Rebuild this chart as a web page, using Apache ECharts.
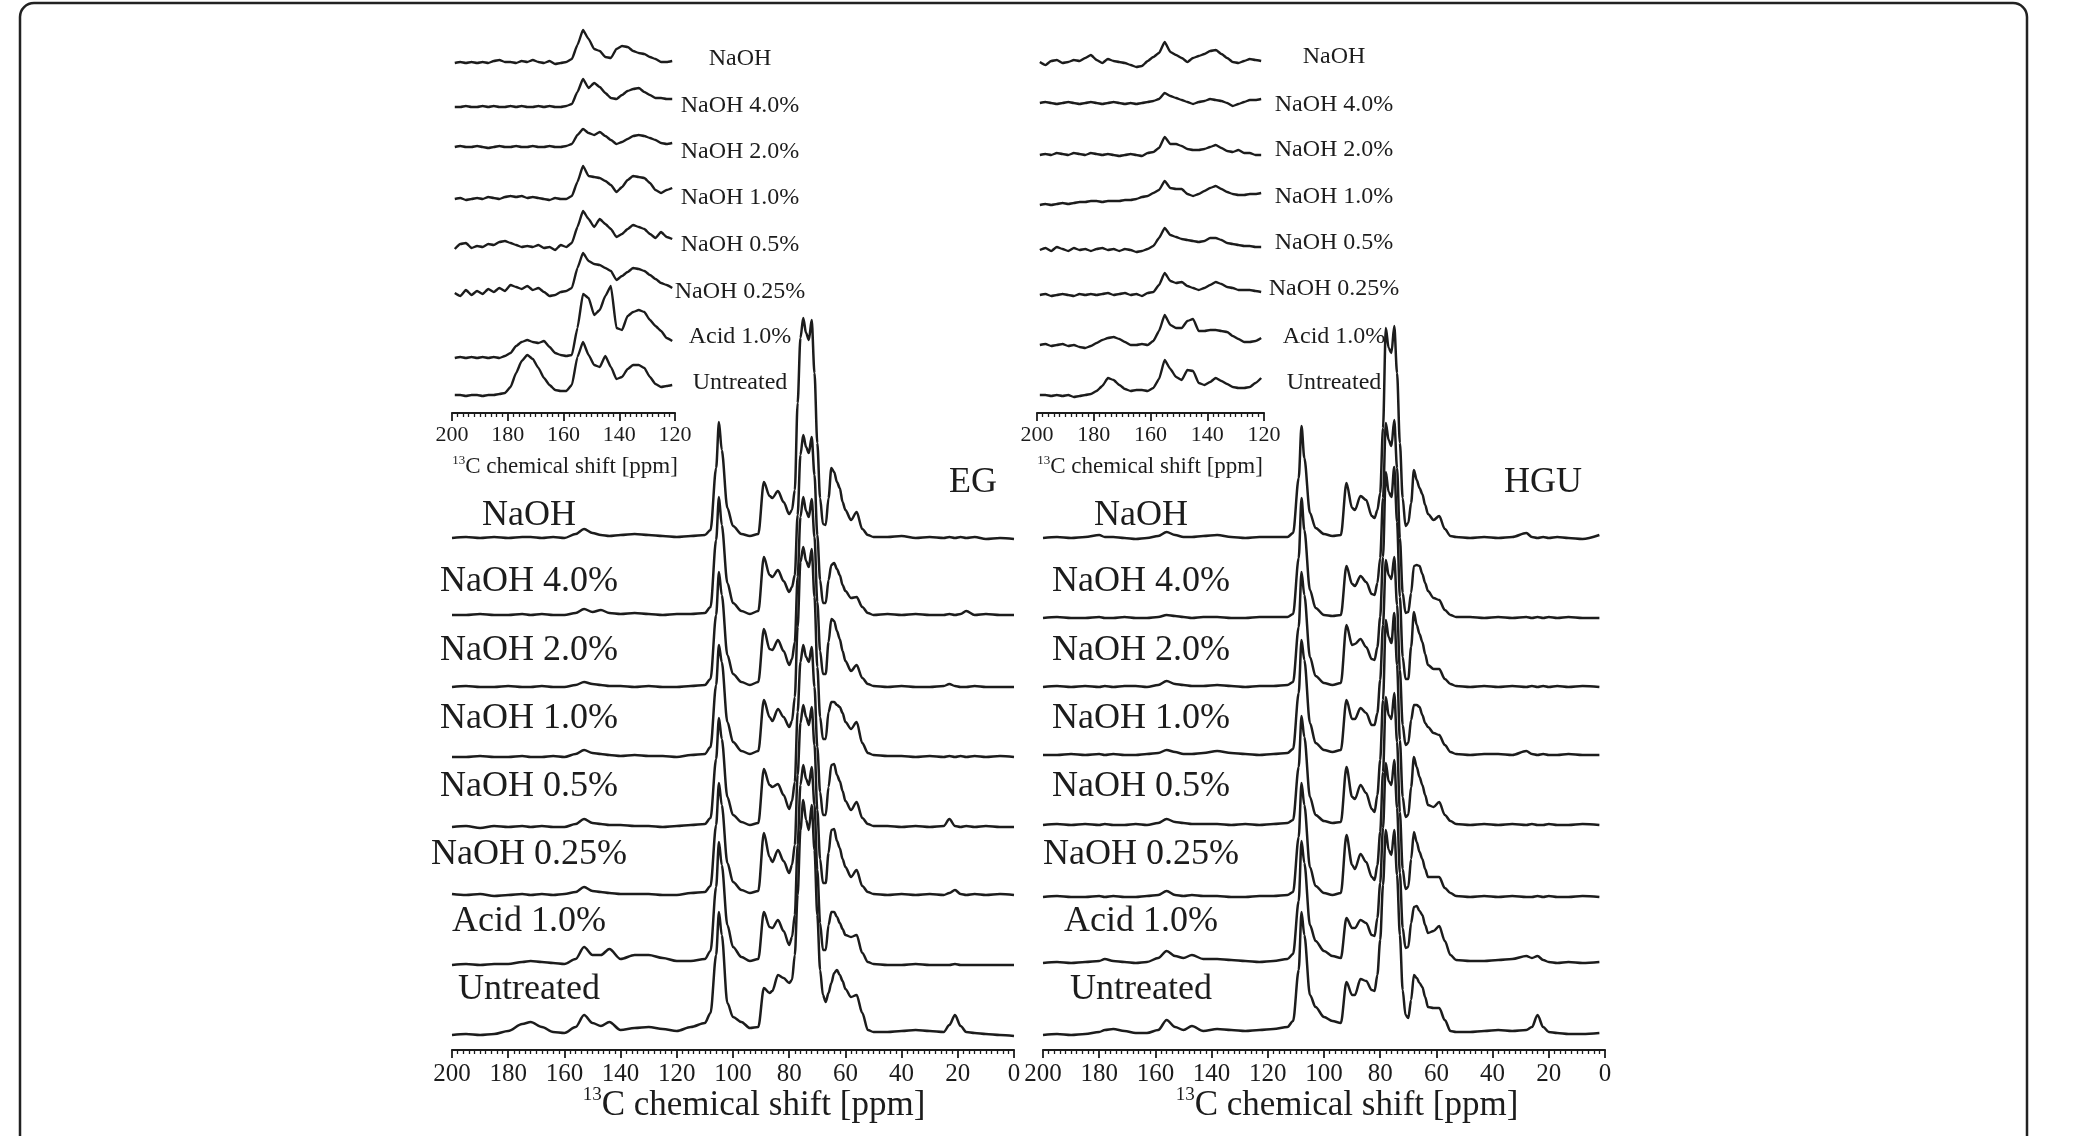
<!DOCTYPE html>
<html><head><meta charset="utf-8">
<script src="https://cdn.jsdelivr.net/npm/echarts@6/dist/echarts.min.js"></script>
<style>html,body{margin:0;padding:0;background:#fff}#c{width:2075px;height:1136px}</style>
</head><body><div id="c"></div>
<script>
// ---------- chemical-shift grids (ppm) ----------
const ppmMainEG = [200,195,190,185,180,175,172,168,164,160,156,153,150,147,144,140,135,130,125,120,
  115,110,108,106,105,104,102,100,97,94, 91,89,87,86,84,82,80,79,78,77,
  76,75,74,73,72,71,70,69,68,67, 66,65,64,63,62,61,60,58,56,54,
  52,50,45,40,35,30,25,23,21,19,17,14,10,5,0];
const ppmMainHGU = [200,195,190,185,180,178,175,171,167,163,159,156,153,150,147,143,138,133,128,123,
  118,113,111,109,108,107,105,103,100,97, 94,92,90,89,87,85,83,82,81,80,
  79,78,77,76,75,74,73,72,71,70, 69,68,67,66,65,64,63,61,59,57,
  55,53,48,43,38,33,28,26,24,22,20,17,13,8,2];
const ppmInset = [199,197,195,193,191,189,187,185,183,181,179,177,175,173,171,169,167,165,163,161,
  159,157,155,153,151,149,147,145,143,141,139,137,135,133,131,129,127,125,123,121];

// ---------- sample names (bottom to top) ----------
const sampleNames = ['Untreated','Acid 1.0%','NaOH 0.25%','NaOH 0.5%','NaOH 1.0%','NaOH 2.0%','NaOH 4.0%','NaOH'];

// ---------- EG main spectra (intensity) ----------
const egUntreated = [0,1,0,1,4,11,13,8,3,2,8,20,12,9,13,5,7,8,6,4, 8,12,22,80,123,100,32,18,13,7, 8,47,42,44,60,57,52,55,80,140, 205,235,215,205,230,185,120,65,40,33, 42,52,62,65,60,54,46,38,40,22, 5,3,3,4,5,4,3,10,20,9,3,2,1,0,-1];
const egAcid10 = [0,1,0,1,1,3,4,3,2,1,6,18,10,10,16,6,10,10,7,4, 4,6,14,78,123,100,40,18,8,4, 6,53,38,37,45,34,20,28,50,120, 180,200,186,180,198,160,95,42,15,15, 40,53,53,48,42,36,30,28,30,12, 3,1,0,0,1,0,0,0,1,0,0,0,0,0,0];
const egNaOH025 = [1,0,1,-1,0,1,0,1,0,1,3,8,4,3,2,1,1,1,0,0, 2,3,9,70,112,90,32,13,5,2, 4,62,38,33,45,34,22,30,50,120, 172,190,178,170,188,150,85,36,12,12, 42,65,66,54,47,36,28,18,25,9, 3,1,0,1,0,1,0,2,5,1,0,1,0,1,0];
const egNaOH05 = [0,1,-1,1,0,1,0,1,0,0,3,8,4,3,2,2,1,1,0,1, 2,3,9,68,109,88,30,12,5,2, 4,58,42,40,43,32,18,26,45,115, 165,182,170,165,180,140,80,35,12,12, 40,62,63,52,46,36,26,17,25,9, 3,1,1,0,1,0,1,8,1,0,1,0,1,0,0];
const egNaOH10 = [0,0,1,0,0,1,0,0,1,0,3,7,4,3,2,1,2,1,1,0, 2,3,10,72,112,95,35,15,6,3, 6,57,40,36,48,40,30,36,60,130, 195,210,196,190,208,160,90,40,18,18, 45,55,55,52,50,44,35,28,35,14, 4,2,1,1,0,1,0,1,0,1,0,1,0,1,0];
const egNaOH20 = [0,1,0,0,1,0,0,1,0,0,2,5,3,2,1,1,0,1,0,0, 1,2,8,72,115,92,32,13,5,2, 5,58,38,37,47,36,22,28,45,110, 170,190,176,170,188,150,85,36,13,13, 45,68,66,56,48,36,26,16,22,9, 3,1,0,1,0,0,1,3,1,0,0,1,0,0,0];
const egNaOH40 = [0,0,1,0,0,1,0,1,0,0,2,6,3,5,2,1,2,1,0,1, 1,2,8,75,118,90,32,12,4,1, 4,58,40,38,45,34,23,28,40,100, 160,180,168,162,178,140,80,35,12,12, 35,50,52,46,40,30,24,17,18,8, 2,0,1,0,1,0,0,1,0,1,4,0,1,0,0];
const egNaOH = [0,1,0,1,0,1,1,0,1,0,4,9,5,3,2,3,4,3,2,1, 2,3,8,70,116,88,30,12,4,2, 4,56,42,40,47,36,24,28,48,135, 200,220,205,198,218,165,95,40,14,13, 40,70,66,56,50,36,28,18,26,9, 3,1,1,2,0,1,0,1,0,1,0,1,-1,0,-1];

// ---------- HGU main spectra ----------
const hguUntreated = [0,1,0,1,3,5,6,4,2,2,5,15,8,5,9,4,6,5,4,5, 6,8,14,65,123,100,40,28,18,14, 12,53,40,40,56,54,45,44,60,95, 150,205,185,180,205,160,100,45,20,17, 35,60,57,52,48,38,28,27,27,15, 4,3,3,4,5,4,5,8,20,8,3,2,1,1,2];
const hguAcid10 = [0,1,0,1,2,4,2,1,0,1,5,12,7,5,8,4,4,3,2,1, 2,4,9,62,122,100,38,22,12,7, 5,45,35,35,43,40,28,27,45,80, 135,200,182,178,203,155,90,35,15,16, 40,56,57,52,48,38,30,32,37,22, 8,3,2,2,3,4,7,5,7,3,1,0,1,0,1];
const hguNaOH025 = [0,1,0,0,1,0,1,0,0,1,2,6,2,1,2,1,1,0,0,1, 1,2,5,60,114,92,30,11,4,2, 4,62,32,28,43,35,20,17,32,65, 125,200,182,178,204,155,85,28,8,10, 38,65,55,45,38,28,20,20,20,9, 4,1,0,1,0,1,0,0,1,0,1,0,0,1,0];
const hguNaOH05 = [0,1,0,1,0,1,0,0,1,0,2,6,3,2,1,1,1,0,1,0, 1,2,5,58,109,88,28,10,4,2, 3,58,28,26,40,32,16,13,30,65, 125,205,188,182,212,160,85,28,8,10, 38,68,58,48,40,30,20,18,23,10, 4,1,0,1,0,1,0,1,0,0,1,0,0,1,0];
const hguNaOH10 = [0,0,1,0,1,0,1,0,0,1,2,5,3,1,1,2,4,2,1,0, 1,2,6,62,115,95,32,12,5,3, 5,55,36,36,47,42,30,30,42,75, 130,195,180,176,198,150,85,30,10,12, 35,50,50,48,40,32,28,22,20,10, 3,1,0,1,1,0,4,1,0,1,0,0,1,0,0];
const hguNaOH20 = [0,1,0,1,0,1,0,1,1,0,2,6,3,2,1,1,2,1,0,1, 1,2,5,60,115,92,30,11,4,2, 4,62,42,43,48,40,28,27,40,70, 130,215,195,190,220,165,90,30,8,8, 40,75,62,53,45,33,22,18,18,8, 3,1,0,1,0,1,0,1,0,1,0,1,0,1,0];
const hguNaOH40 = [0,1,0,0,1,0,0,1,0,0,1,3,2,1,0,1,1,0,0,1, 1,1,4,60,120,88,28,10,3,2, 3,52,34,32,42,36,24,23,35,60, 120,195,178,172,198,150,80,25,5,6, 25,52,53,52,44,35,27,20,18,8, 3,1,1,0,1,0,1,0,1,0,1,0,1,0,0];
const hguNaOH = [0,1,0,1,3,1,1,0,-1,0,2,6,3,1,1,2,3,1,0,1, 1,1,5,60,112,80,25,10,4,2, 3,55,30,28,42,38,22,20,28,45, 110,210,190,185,212,165,95,40,12,15, 35,68,58,50,44,33,24,18,22,9, 2,1,0,1,0,1,5,1,0,1,0,1,0,-1,3];

// ---------- EG inset spectra (200-120 ppm) ----------
const egInUntreated = [0,0,-1,0,0,-1,0,0,1,2, 8,22,34,40,36,27,17,10,5,4, 4,10,38,53,40,30,28,39,28,16, 18,26,30,30,27,18,11,8,9,10];
const egInAcid10 = [0,1,0,1,0,1,0,1,0,2, 5,12,16,18,16,15,17,11,5,3, 2,3,30,64,60,43,48,62,72,30, 28,42,46,48,46,38,32,27,20,17];
const egInNaOH025 = [0,-3,3,-2,2,-1,4,1,5,2, 8,6,4,7,3,5,1,-3,-2,1, 2,5,25,40,32,29,28,25,22,13, 17,21,25,24,22,18,14,10,8,5];
const egInNaOH05 = [-2,3,4,-1,1,0,3,2,5,6, 4,2,0,1,0,2,-1,0,-3,2, 0,4,20,36,28,20,28,23,18,10, 13,18,22,20,18,13,9,15,10,8];
const egInNaOH10 = [0,1,-1,0,1,0,2,1,0,2, 3,2,3,1,2,1,0,-1,1,0, 0,3,17,33,23,22,21,18,14,7, 12,19,23,22,21,16,9,6,9,11];
const egInNaOH20 = [0,1,0,0,1,0,-1,0,1,0, 0,1,0,0,1,0,0,1,0,0, 1,3,12,18,14,12,15,11,7,3, 5,8,11,12,11,9,7,4,3,4];
const egInNaOH40 = [0,0,1,0,0,1,0,1,0,0, 1,0,1,0,0,1,0,1,0,0, 1,3,15,28,19,24,20,14,9,8, 12,16,18,19,15,12,9,9,8,8];
const egInNaOH = [0,1,0,1,0,1,0,2,3,1, 1,0,2,1,3,1,0,2,-1,0, 1,4,18,33,24,14,12,6,5,14, 17,16,12,10,9,6,4,1,1,2];

// ---------- HGU inset spectra ----------
const hguInUntreated = [0,0,-1,0,-1,0,-2,-1,0,1, 4,9,17,15,10,6,4,5,5,4, 7,16,35,26,18,15,25,24,12,10, 13,17,14,11,8,7,7,8,12,17];
const hguInAcid10 = [0,1,-1,0,1,-1,0,-2,-3,-1, 2,5,7,8,6,3,0,0,1,0, 4,14,30,20,17,17,24,26,14,14, 15,15,14,13,9,6,3,3,4,7];
const hguInNaOH025 = [0,1,-1,0,1,0,-1,1,0,1, 0,1,2,0,1,2,0,1,-1,2, 3,10,22,14,12,13,9,7,5,7, 10,13,11,8,7,5,5,5,4,3];
const hguInNaOH05 = [0,2,-1,3,1,-1,2,0,1,-1, 1,2,0,1,-1,1,0,-2,-1,1, 4,12,22,15,13,11,10,9,8,9, 12,12,10,7,6,5,4,4,3,3];
const hguInNaOH10 = [-2,-1,-2,-1,0,-1,0,1,1,2, 2,1,2,2,2,3,3,4,6,7, 10,13,22,15,14,14,9,7,9,12, 15,17,14,11,9,8,8,9,9,10];
const hguInNaOH20 = [0,1,0,2,1,0,2,1,0,2, 1,0,1,0,-1,0,1,0,-1,2, 3,7,18,11,11,9,6,5,5,6, 8,10,7,4,3,5,2,2,0,0];
const hguInNaOH40 = [0,1,0,-1,0,1,0,-1,0,1, 0,-1,0,1,0,-1,0,-1,0,1, 2,4,10,7,5,3,1,-1,1,2, 4,3,2,0,-3,-1,1,3,3,4];
const hguInNaOH = [0,-3,1,2,-1,0,2,1,4,7, 2,-1,3,1,0,-1,-3,-5,-4,1, 5,9,20,10,7,4,0,4,6,8, 11,12,8,4,0,-1,1,3,2,1];

// ---------- stacking offsets (bottom to top) ----------
const offMainEG = [0,70,140,208,278,348,420,497];
const offMainHGU = [0,72,138,210,280,348,417,497];
const offInEG = [0,37,102,148,196,248,288,332];
const offInHGU = [0,50,100,145,192,240,292,333];

// ---------- axis ticks ----------
const mainTicks = {min:0, max:200, interval:20};
const insetTicks = {min:120, max:200, interval:20};

// ---------- build ----------
const FONT = '"Liberation Serif","Times New Roman",Times,serif';
const INK = '#1c1c1c';
const egMainSets = [egUntreated, egAcid10, egNaOH025, egNaOH05, egNaOH10, egNaOH20, egNaOH40, egNaOH];
const hguMainSets = [hguUntreated, hguAcid10, hguNaOH025, hguNaOH05, hguNaOH10, hguNaOH20, hguNaOH40, hguNaOH];
const egInSets = [egInUntreated, egInAcid10, egInNaOH025, egInNaOH05, egInNaOH10, egInNaOH20, egInNaOH40, egInNaOH];
const hguInSets = [hguInUntreated, hguInAcid10, hguInNaOH025, hguInNaOH05, hguInNaOH10, hguInNaOH20, hguInNaOH40, hguInNaOH];

function mkSeries(ppm, sets, offs, axisIndex, tag, width, smooth) {
  return sets.map((vals, k) => ({
    type: 'line', name: tag + ' ' + sampleNames[k],
    xAxisIndex: axisIndex, yAxisIndex: axisIndex,
    data: vals.map((v, i) => [ppm[i], v + offs[k]]),
    showSymbol: false, symbol: 'none', smooth: smooth, smoothMonotone: 'x',
    lineStyle: {color: INK, width: width}, silent: true, animation: false
  }));
}
function mkX(gridIndex, t, labelSize, margin) {
  return {type: 'value', gridIndex, min: t.min, max: t.max, interval: t.interval, inverse: true,
    position: 'bottom',
    axisLine: {show: true, onZero: false, lineStyle: {color: INK, width: 2.2}},
    axisTick: {show: true, inside: false, length: 8, lineStyle: {color: INK, width: 1.8}},
    minorTick: {show: true, splitNumber: 10, length: 4, lineStyle: {color: INK, width: 1.3}},
    axisLabel: {color: INK, fontFamily: FONT, fontSize: labelSize, margin: margin},
    splitLine: {show: false}, minorSplitLine: {show: false}};
}
function mkY(gridIndex, min, max) {
  return {type: 'value', gridIndex, min, max, show: false, splitLine: {show: false}};
}
function txt(x, y, s, size) {
  return {type: 'text', x, y, silent: true,
    style: {text: s, fontFamily: FONT, fontSize: size, fill: INK, align: 'center', verticalAlign: 'middle',
      textAlign: 'center', textVerticalAlign: 'middle'}};
}
function title(x, y, size, supSize) {
  return {type: 'text', x, y, silent: true,
    style: {text: '{s|13}{n|C chemical shift [ppm]}', fill: INK, align: 'center', verticalAlign: 'middle',
      textAlign: 'center', textVerticalAlign: 'middle', fontFamily: FONT, fontSize: size,
      rich: {s: {fontFamily: FONT, fontSize: supSize, lineHeight: Math.round(size * 0.55), verticalAlign: 'top', fill: INK},
             n: {fontFamily: FONT, fontSize: size, lineHeight: Math.round(size * 1.15), fill: INK}}}};
}

// label layout (pixel positions of annotations)
const mainLabelY = [990, 922, 855, 787, 719, 651, 582, 516];
const insetLabelYEG = [383, 337, 292, 245, 198, 152, 106, 59];
const insetLabelYHGU = [383, 337, 289, 243, 197, 150, 105, 57];

const graphics = [
  {type: 'rect', silent: true, shape: {x: 20, y: 3, width: 2007, height: 1300, r: 14},
   style: {fill: 'none', stroke: '#222', lineWidth: 2.5}},
  title(754, 1106, 35, 19), title(1347, 1106, 35, 19),
  title(565, 467, 23, 13), title(1150, 467, 23, 13),
  txt(973, 483, 'EG', 36), txt(1543, 483, 'HGU', 36)
];
sampleNames.forEach((n, k) => {
  graphics.push(txt(529, mainLabelY[k], n, 36));
  graphics.push(txt(1141, mainLabelY[k], n, 36));
  graphics.push(txt(740, insetLabelYEG[k], n, 24));
  graphics.push(txt(1334, insetLabelYHGU[k], n, 24));
});

const option = {
  animation: false,
  backgroundColor: '#ffffff',
  grid: [
    {left: 452, width: 562, top: 290, height: 760},
    {left: 1043, width: 562, top: 290, height: 760},
    {left: 452, width: 223, top: 20, height: 393},
    {left: 1037, width: 227, top: 20, height: 393}
  ],
  xAxis: [mkX(0, mainTicks, 25, 12), mkX(1, mainTicks, 25, 12), mkX(2, insetTicks, 22, 11), mkX(3, insetTicks, 22, 11)],
  yAxis: [mkY(0, -15, 745), mkY(1, -15, 745), mkY(2, -18, 375), mkY(3, -18, 375)],
  series: [].concat(
    mkSeries(ppmMainEG, egMainSets, offMainEG, 0, 'EG', 2.5, 0.3),
    mkSeries(ppmMainHGU, hguMainSets, offMainHGU, 1, 'HGU', 2.5, 0.3),
    mkSeries(ppmInset, egInSets, offInEG, 2, 'EG inset', 2.4, 0.15),
    mkSeries(ppmInset, hguInSets, offInHGU, 3, 'HGU inset', 2.4, 0.15)
  ),
  graphic: graphics
};
const chart = echarts.init(document.getElementById('c'), null, {renderer: 'canvas'});
chart.setOption(option);
</script>
</body></html>
